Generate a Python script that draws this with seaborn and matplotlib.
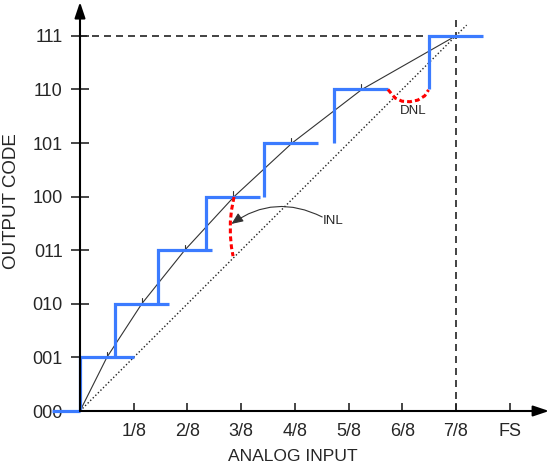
import matplotlib
matplotlib.use("Agg")
import matplotlib.pyplot as plt
import seaborn as sns
import pandas as pd

# output codes and input ticks
codes = ["000", "001", "010", "011", "100", "101", "110", "111"]
input_ticks = [1, 2, 3, 4, 5, 6, 7, 8]
input_labels = ["1/8", "2/8", "3/8", "4/8", "5/8", "6/8", "7/8", "FS"]

# x (in LSB) where the code steps from k-1 to k
transitions = [0.0, 0.65, 1.45, 2.35, 3.43, 4.73, 6.50]
level0_start = -0.52
step_width = 1.0

# actual transfer curve, through the step midpoints
curve_x = [0.0, 0.50, 1.15, 1.95, 2.87, 3.95, 5.25, 7.0]
curve_y = [0, 1, 2, 3, 4, 5, 6, 7]

# ideal line
ideal_x = [0.0, 7.2]
ideal_y = [0.0, 7.2]

# INL and DNL markers
inl_x = [2.868, 2.82, 2.80, 2.80, 2.82, 2.85]
inl_y = [3.993, 3.74, 3.53, 3.28, 3.06, 2.89]
dnl_x = [5.735, 5.866, 5.996, 6.145, 6.29, 6.42, 6.49]
dnl_y = [5.998, 5.84, 5.78, 5.77, 5.80, 5.88, 5.99]

blue = "#3B7BFF"
sns.set_style("white")
plt.rcParams["font.family"] = ["Liberation Sans", "DejaVu Sans"]

fig = plt.figure(figsize=(5.5, 4.69), dpi=100)
ax = fig.add_axes([80 / 550, 58 / 469, 470 / 550, 411 / 469])
ax.set_xlim(0, 470 / 53.7)
ax.set_ylim(0, 411 / 53.6)
for s in ax.spines.values():
    s.set_visible(False)

# full scale guides
ax.plot([0, 7], [7, 7], color="#222222", lw=1.2, ls=(0, (4.2, 3.0)))
ax.plot([7, 7], [0, 7.35], color="#222222", lw=1.2, ls=(0, (4.2, 3.0)))

# ideal and actual curves
sns.lineplot(x=ideal_x, y=ideal_y, ax=ax, color="#222222", lw=1.0,
             linestyle=(0, (1, 1.6)))
df = pd.DataFrame({"x": curve_x, "y": curve_y})
sns.lineplot(data=df, x="x", y="y", ax=ax, color="#333333", lw=0.8)

# midpoint ticks
for k in range(1, 7):
    m = transitions[k - 1] + step_width / 2
    ax.plot([m, m], [k, k + 0.1], color="#333333", lw=0.8)

# staircase
ax.plot([level0_start, 0], [0, 0], color=blue, lw=2.3, clip_on=False,
        solid_capstyle="butt")
for k in range(1, 8):
    t = transitions[k - 1]
    ax.plot([t, t, t + step_width], [k - 1, k, k], color=blue, lw=2.3,
            solid_capstyle="butt", solid_joinstyle="miter", clip_on=False)

# INL / DNL
ax.plot(inl_x, inl_y, color="red", lw=2.2, ls=(0, (1.6, 1.0)))
ax.plot(dnl_x, dnl_y, color="red", lw=2.2, ls=(0, (1.6, 1.0)))
ax.annotate("", xy=(2.82, 3.49), xytext=(4.51, 3.62),
            arrowprops=dict(arrowstyle="-|>,head_length=0.7,head_width=0.3",
                            color="#333333", lw=0.8, shrinkA=0, shrinkB=0,
                            connectionstyle="arc3,rad=0.3"))
ax.text(4.71, 3.54, "INL", fontsize=9.5, ha="center", va="center")
ax.text(6.2, 5.6, "DNL", fontsize=9.5, ha="center", va="center")

# axes as arrows
arrow = dict(arrowstyle="-|>,head_length=0.95,head_width=0.32", color="black",
             lw=1.5, shrinkA=0, shrinkB=0, mutation_scale=10)
ax.annotate("", xy=(0.998, 0), xycoords="axes fraction", xytext=(0, 0),
            arrowprops=arrow)
ax.annotate("", xy=(0, 0.995), xycoords="axes fraction", xytext=(0, 0),
            arrowprops=arrow)

ax.set_xticks(input_ticks)
ax.set_xticklabels(input_labels)
ax.set_yticks(range(len(codes)))
ax.set_yticklabels(codes)
ax.tick_params(axis="x", direction="in", length=5.8, width=1.2, pad=8.5,
               labelsize=13, bottom=True)
ax.tick_params(axis="y", direction="inout", length=13, width=1.2, pad=6,
               labelsize=13, left=True)
ax.set_xlabel("ANALOG INPUT", fontsize=12.6)
ax.xaxis.set_label_coords(0.453, -0.093)
ax.set_ylabel("OUTPUT CODE", fontsize=13.5)
ax.yaxis.set_label_coords(-0.127, 0.511)

fig.savefig("out.png", dpi=100)
